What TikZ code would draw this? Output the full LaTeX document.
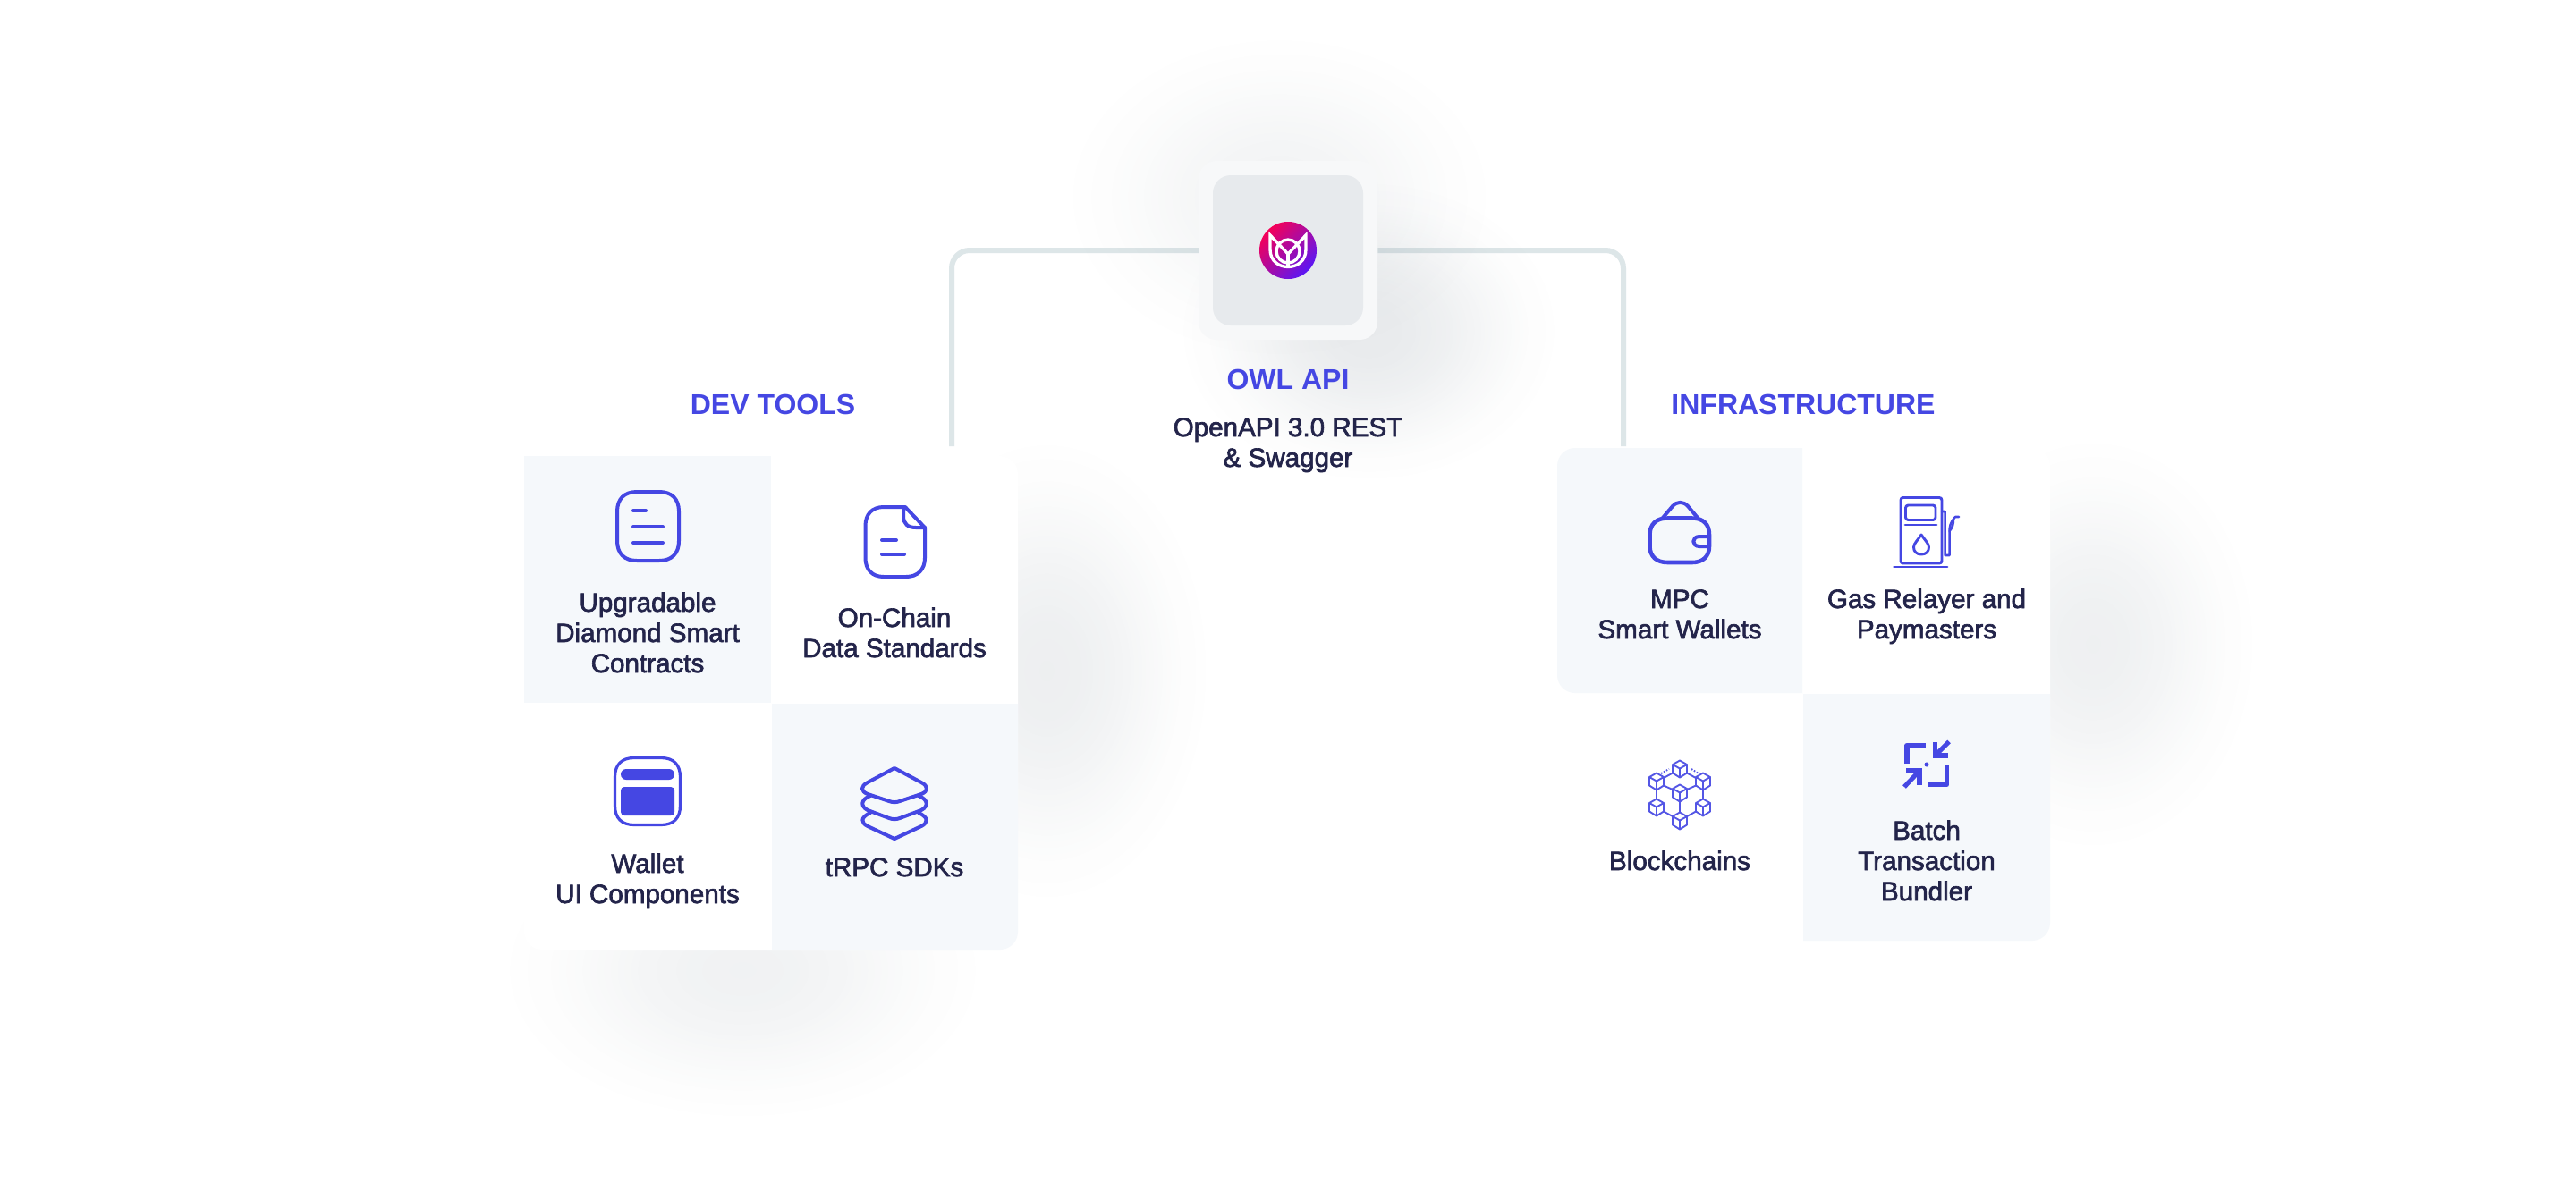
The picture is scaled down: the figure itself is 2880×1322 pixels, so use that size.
\documentclass[tikz,border=0pt]{standalone}
\usepackage{fontspec}
\setmainfont{Liberation Sans}
\font\labfont="Liberation Sans:embolden=2.2" at 22.2pt
\newfontfamily\headfont{Liberation Sans Bold}
\usetikzlibrary{fadings}
\pgfdeclareradialshading{blobsh}{\pgfpoint{0bp}{0bp}}{%
 color(0bp)=(pgftransparent!0);
 color(5bp)=(pgftransparent!8);
 color(10bp)=(pgftransparent!30);
 color(15bp)=(pgftransparent!62);
 color(20bp)=(pgftransparent!90);
 color(24bp)=(pgftransparent!100);
 color(100bp)=(pgftransparent!100)}
\pgfdeclarefading{blobfade}{\pgfuseshading{blobsh}}
\definecolor{ink}{HTML}{23244A}
\definecolor{acc}{HTML}{4547E3}
\definecolor{cellc}{HTML}{F5F8FB}
\definecolor{linec}{HTML}{DDE6E8}
\definecolor{blobc}{HTML}{5F6F7E}
\definecolor{boxo}{HTML}{F7F8F9}
\definecolor{boxi}{HTML}{E7EAED}
\definecolor{logoa}{HTML}{F50057}
\definecolor{logob}{HTML}{A814A8}
\definecolor{logoc}{HTML}{5A17F5}
\tikzset{
 x=0.75pt,y=-0.75pt,
 conn/.style={draw=linec,line width=4.5pt,rounded corners=15pt},
 lab/.style={font=\labfont,text=ink,align=center,inner sep=0pt,anchor=base},
 head/.style={font=\headfont\fontsize{24pt}{30pt}\selectfont,text=acc,inner sep=0pt,anchor=base},
 ico/.style={draw=acc,line width=3pt,line cap=round,line join=round},
 thin ico/.style={draw=acc,line width=2.2pt,line cap=round,line join=round},
 cube line/.style={draw=acc!92!white,line width=1.4pt,line join=round},
 blob/.style={fill=blobc,path fading=blobfade},
 cellbox/.style={fill=cellc},
 logoline/.style={draw=white,line width=2.5pt,line join=miter}
}
\newcommand{\blobat}[5]{\fill[blob,opacity=#5] (#1,#2) ellipse [x radius=#3*0.75pt,y radius=#4*0.75pt];}
\begin{document}
\begin{tikzpicture}
\useasboundingbox (0,0) rectangle (2880,1322);
\fill[white] (0,0) rectangle (2880,1322);
% anchors
\node[minimum width=150pt,minimum height=150pt,inner sep=0pt] (logobox) at (1440,280) {};
\coordinate (devend) at (1064,499);
\coordinate (infraend) at (1815,499);
% connectors
\draw[conn] (logobox.west) -| (devend);
\draw[conn] (logobox.east) -| (infraend);
% soft shadows
\blobat{1430}{220}{250}{190}{.08}
\blobat{1530}{370}{220}{175}{.14}
\blobat{1170}{750}{190}{270}{.11}
\blobat{830}{1085}{280}{175}{.09}
\blobat{2340}{720}{190}{240}{.10}
% logo tile
\node[fill=boxo,rounded corners=15pt,minimum width=150pt,minimum height=150pt,inner sep=0pt] (tile) at (1440,280) {};
\node[fill=boxi,rounded corners=15pt,minimum width=126pt,minimum height=126pt,inner sep=0pt] (tileinner) at (1440,280) {};
\shade[top color=logoa,middle color=logob,bottom color=logoc,shading angle=45] (1440,280) circle [radius=24pt];
\draw[logoline] (1427,281) arc[start angle=180,end angle=-180,radius=9.75pt];
\draw[logoline] (1420,263) -- (1420,279) .. controls (1420,292) and (1430,298.5) .. (1440,298.5) .. controls (1450,298.5) and (1460,292) .. (1460,279) -- (1460,263) -- (1440,284) -- cycle;
\draw[logoline] (1440,284) -- (1440,298);
% card backs
\fill[white,rounded corners=15pt] (586,510) rectangle (1138,1062);
\fill[white,rounded corners=15pt] (1741,501) rectangle (2292,1052);
% left cells
\fill[cellbox] (586,510) rectangle (862,786);
\fill[cellbox] (863,787) -- (1138,787) [rounded corners=15pt] -- (1138,1062) [sharp corners] -- (863,1062) -- cycle;
% right cells
\fill[cellbox] (2015,501) [rounded corners=15pt] -- (1741,501) -- (1741,775) [sharp corners] -- (2015,775) -- cycle;
\fill[cellbox] (2016,776) -- (2292,776) [rounded corners=15pt] -- (2292,1052) [sharp corners] -- (2016,1052) -- cycle;
% headings
\node[head] (owl) at (1440,435) {OWL API};
\node[head] (dev) at (864,463) {DEV TOOLS};
\node[head] (inf) at (2016,463) {INFRASTRUCTURE};
% labels
\node[lab] (rest1) at (1440,488) {OpenAPI 3.0 REST};
\node[lab] (rest2) at (1440,522) {\& Swagger};
\node[lab] (u1) at (724,684) {Upgradable};
\node[lab] (u2) at (724,718) {Diamond Smart};
\node[lab] (u3) at (724,752) {Contracts};
\node[lab] (o1) at (1000,701) {On-Chain};
\node[lab] (o2) at (1000,735) {Data Standards};
\node[lab] (w1) at (724,976) {Wallet};
\node[lab] (w2) at (724,1010) {UI Components};
\node[lab] (t1) at (1000,980) {tRPC SDKs};
\node[lab] (m1) at (1878,680) {MPC};
\node[lab] (m2) at (1878,714) {Smart Wallets};
\node[lab] (g1) at (2154,680) {Gas Relayer and};
\node[lab] (g2) at (2154,714) {Paymasters};
\node[lab] (b1) at (1878,973) {Blockchains};
\node[lab] (b2) at (2154,939) {Batch};
\node[lab] (b3) at (2154,973) {Transaction};
\node[lab] (b4) at (2154,1007) {Bundler};
% icon: contract
\draw[ico] (690,572) .. controls (690,558) and (698,550) .. (712,550) -- (737,550) .. controls (751,550) and (759,558) .. (759,572) -- (759,605) .. controls (759,619) and (751,627) .. (737,627) -- (712,627) .. controls (698,627) and (690,619) .. (690,605) -- cycle;
\draw[ico] (708,571) -- (722,571) (708,589) -- (741,589) (708,607) -- (741,607);
% icon: document
\draw[ico] (1012,567) -- (988,567) .. controls (975,567) and (967.5,575) .. (967.5,588) -- (967.5,624) .. controls (967.5,637) and (975,645) .. (988,645) -- (1013,645) .. controls (1026,645) and (1034,637) .. (1034,624) -- (1034,590) -- cycle;
\draw[ico] (1010,568) -- (1010,577) .. controls (1010,586) and (1015,590) .. (1024,590) -- (1034,590);
\draw[ico] (986,604) -- (1002,604) (986,620) -- (1011,620);
% icon: wallet UI
\draw[ico,line width=2.4pt] (687.5,869) .. controls (687.5,855) and (695,847.5) .. (709,847.5) -- (739,847.5) .. controls (753,847.5) and (760.5,855) .. (760.5,869) -- (760.5,901) .. controls (760.5,915) and (753,922.5) .. (739,922.5) -- (709,922.5) .. controls (695,922.5) and (687.5,915) .. (687.5,901) -- cycle;
\fill[acc,rounded corners=4.5pt] (694,860) rectangle (754,872);
\fill[acc,rounded corners=3pt] (694,880) rectangle (754,912);
% icon: stack
\draw[ico] (1000,859) -- (1030,875) .. controls (1038,879) and (1038,885) .. (1030,888) -- (1006,896) .. controls (1002,897.5) and (998,897.5) .. (994,896) -- (970,888) .. controls (962,885) and (962,879) .. (970,875) -- cycle;
\draw[ico] (1027,890) .. controls (1038,894) and (1038,902) .. (1030,906) -- (1006,915) .. controls (1002,916.5) and (998,916.5) .. (994,915) -- (970,906) .. controls (962,902) and (962,894) .. (973,890);
\draw[ico] (1027,909) .. controls (1038,914) and (1038,920) .. (1030,924) -- (1000,938) -- (970,924) .. controls (962,920) and (962,914) .. (973,909);
% icon: purse
\draw[ico,line width=3.4pt] (1844.5,598) .. controls (1844.5,586) and (1852,579.5) .. (1864,579.5) -- (1892,579.5) .. controls (1904,579.5) and (1911,586) .. (1911,598) -- (1911,611) .. controls (1911,622) and (1904,629) .. (1892,629) -- (1864,629) .. controls (1852,629) and (1844.5,622) .. (1844.5,611) -- cycle;
\draw[ico,line width=3pt] (1859,579) -- (1870,566) .. controls (1875,560.5) and (1882,560.5) .. (1887,566) -- (1898,579);
\draw[ico] (1911,600) -- (1900,600) .. controls (1891,600) and (1891,611) .. (1900,611) -- (1911,611);
% icon: fuel pump
\draw[thin ico] (2128,556.5) -- (2168,556.5) .. controls (2170,556.5) and (2171,557.5) .. (2171,559.5) -- (2171,627) .. controls (2171,629) and (2170,630) .. (2168,630) -- (2128,630) .. controls (2126,630) and (2125,629) .. (2125,627) -- (2125,559.5) .. controls (2125,557.5) and (2126,556.5) .. (2128,556.5) -- cycle;
\draw[thin ico,rounded corners=2.2pt] (2130.5,565) rectangle (2164,581.5);
\draw[thin ico] (2130,587) -- (2165,587);
\draw[thin ico] (2148,598) .. controls (2144,604) and (2139.5,608) .. (2139.5,612) .. controls (2139.5,617) and (2143,620) .. (2148,620) .. controls (2153,620) and (2156.5,617) .. (2156.5,612) .. controls (2156.5,608) and (2152,604) .. (2148,598) -- cycle;
\draw[thin ico] (2117.5,634) -- (2177,634);
\draw[thin ico,line width=1.9pt] (2171,572) -- (2174.5,572) -- (2174.5,621) -- (2179.5,621) -- (2179.5,592) .. controls (2180,585) and (2184,580) .. (2186,578) -- (2190,578);
\draw[thin ico,line width=1.9pt] (2179.5,594) .. controls (2183,590) and (2184,586) .. (2184,581);
% icon: chain of cubes
\foreach \cx/\cy/\cn in {1878/860/c1,1852/874/c2,1904/874/c3,1878/887/c4,1852/903/c5,1904/903/c6,1878/918/c7}{
  \coordinate (\cn) at (\cx,\cy);
  \draw[cube line] (\cx,\cy-9.5) -- (\cx+8,\cy-5) -- (\cx+8,\cy+4.5) -- (\cx,\cy+9.5) -- (\cx-8,\cy+4.5) -- (\cx-8,\cy-5) -- cycle;
  \draw[cube line] (\cx-8,\cy-5) -- (\cx,\cy-0.5) -- (\cx+8,\cy-5) (\cx,\cy-0.5) -- (\cx,\cy+9.5);
}
\draw[cube line] (1870,864.5) -- (1860,870) (1886,864.5) -- (1896,870)
  (1860,878.5) -- (1870,883) (1896,878.5) -- (1886,883)
  (1852,883.5) -- (1852,893.5) (1904,883.5) -- (1904,893.5)
  (1878,896.5) -- (1878,908.5) (1860,907.5) -- (1870,913) (1896,907.5) -- (1886,913);
\draw[cube line,dash pattern=on 1.2pt off 1.3pt] (1857,865) -- (1866,860) (1891,860) -- (1899,865);
% icon: batch
\draw[ico,line width=3.8pt,line cap=butt,line join=round] (2132,854) -- (2132,833.5) -- (2153,833.5);
\draw[ico,line width=3.8pt,line cap=butt,line join=round] (2155,877.5) -- (2176.5,877.5) -- (2176.5,856);
\draw[ico,line width=3.8pt,line cap=butt,line join=miter] (2163.5,830) -- (2163.5,845) -- (2178,845);
\draw[ico,line width=3.8pt,line cap=butt] (2163.5,845) -- (2179,829.5);
\draw[ico,line width=3.8pt,line cap=butt,line join=miter] (2131,862) -- (2146,862) -- (2146,878);
\draw[ico,line width=3.8pt,line cap=butt] (2146,862) -- (2129,880);
\fill[acc] (2154,855) circle [radius=1.9pt];
\end{tikzpicture}
\end{document}
